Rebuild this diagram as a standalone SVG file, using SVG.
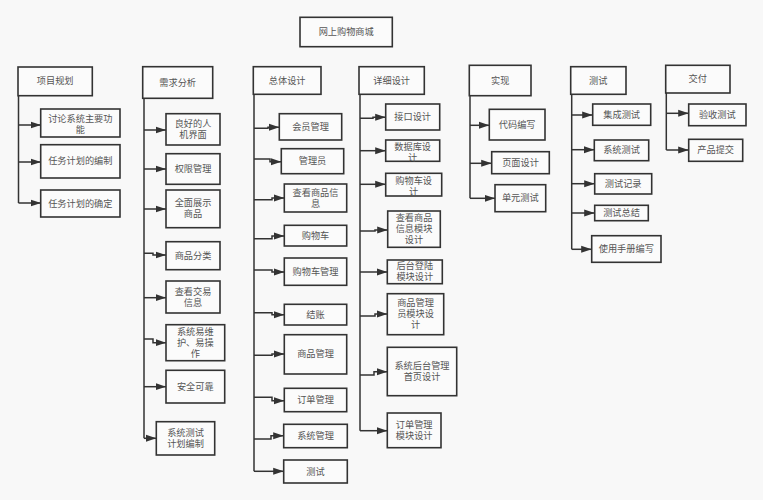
<svg xmlns="http://www.w3.org/2000/svg" width="763" height="500" viewBox="0 0 763 500">
<style>
.b{fill:#fbfbfb;stroke:#333;stroke-width:1.6}
.t{font-family:"Liberation Sans","Noto Sans CJK SC",sans-serif;font-size:9.2px;fill:#555;text-anchor:middle;dominant-baseline:central}
.e{fill:none;stroke:#333;stroke-width:1.5}
</style>
<defs>
<marker id="a" markerUnits="userSpaceOnUse" markerWidth="11" markerHeight="8" refX="10.5" refY="4" orient="auto">
<path d="M0,0.5 L10.5,4 L0,7.5 z" fill="#333"/>
</marker>
</defs>
<rect width="763" height="500" fill="#f8f8f8"/>
<g id="connectors">
<path class="e" d="M18.5,96 V203"/>
<path class="e" d="M18.5,125 H41" marker-end="url(#a)"/>
<path class="e" d="M18.5,162 H41" marker-end="url(#a)"/>
<path class="e" d="M18.5,203 H41" marker-end="url(#a)"/>
<path class="e" d="M144,98 V438.3"/>
<path class="e" d="M144,130 H166" marker-end="url(#a)"/>
<path class="e" d="M144,169 H166" marker-end="url(#a)"/>
<path class="e" d="M144,209 H166" marker-end="url(#a)"/>
<path class="e" d="M144,253.3 H153 V255 H166" marker-end="url(#a)"/>
<path class="e" d="M144,297.7 H166" marker-end="url(#a)"/>
<path class="e" d="M144,339 H153 V342.7 H166" marker-end="url(#a)"/>
<path class="e" d="M144,386.7 H166" marker-end="url(#a)"/>
<path class="e" d="M144,438.3 H156.3" marker-end="url(#a)"/>
<path class="e" d="M254,94 V471.3"/>
<path class="e" d="M254,128.3 H268 V127.3 H279.3" marker-end="url(#a)"/>
<path class="e" d="M254,159 H270 V161.7 H281.3" marker-end="url(#a)"/>
<path class="e" d="M254,199.7 H272 V198 H284.3" marker-end="url(#a)"/>
<path class="e" d="M254,238.7 H272 V236 H284.3" marker-end="url(#a)"/>
<path class="e" d="M254,270 H272 V272 H284.3" marker-end="url(#a)"/>
<path class="e" d="M254,312.7 H272 V314.7 H284.3" marker-end="url(#a)"/>
<path class="e" d="M254,355.3 H272 V354 H284.3" marker-end="url(#a)"/>
<path class="e" d="M254,397.3 H272 V400.7 H284.3" marker-end="url(#a)"/>
<path class="e" d="M254,439 H271 V435.7 H283.7" marker-end="url(#a)"/>
<path class="e" d="M254,471.3 H283.7" marker-end="url(#a)"/>
<path class="e" d="M360,94 V430.7"/>
<path class="e" d="M360,118.3 H373 V117.3 H385.7" marker-end="url(#a)"/>
<path class="e" d="M360,150.7 H385.7" marker-end="url(#a)"/>
<path class="e" d="M360,184.3 H385.7" marker-end="url(#a)"/>
<path class="e" d="M360,231 H375 V230 H387.7" marker-end="url(#a)"/>
<path class="e" d="M360,272 H387.3" marker-end="url(#a)"/>
<path class="e" d="M360,316 H375 V314 H387.3" marker-end="url(#a)"/>
<path class="e" d="M360,375 H374 V371.7 H387.3" marker-end="url(#a)"/>
<path class="e" d="M360,430.7 H387.3" marker-end="url(#a)"/>
<path class="e" d="M470,96 V198.3"/>
<path class="e" d="M470,125.3 H489.3" marker-end="url(#a)"/>
<path class="e" d="M470,163.3 H491.7" marker-end="url(#a)"/>
<path class="e" d="M470,198.3 H495" marker-end="url(#a)"/>
<path class="e" d="M571.7,94 V249.3"/>
<path class="e" d="M571.7,115 H592.7" marker-end="url(#a)"/>
<path class="e" d="M571.7,149.7 H594.3" marker-end="url(#a)"/>
<path class="e" d="M571.7,183.7 H594.7" marker-end="url(#a)"/>
<path class="e" d="M571.7,213 H594.7" marker-end="url(#a)"/>
<path class="e" d="M571.7,249.3 H591.7" marker-end="url(#a)"/>
<path class="e" d="M666.3,93 V150"/>
<path class="e" d="M666.3,113.3 H688.7" marker-end="url(#a)"/>
<path class="e" d="M666.3,150 H688.7" marker-end="url(#a)"/>
</g>
<g id="root"><rect class="b" x="300" y="17.3" width="92.3" height="29.4"/><text class="t" x="346.2" y="32">网上购物商城</text></g>
<g id="c1"><rect class="b" x="18" y="67" width="74.3" height="28.7"/><text class="t" x="55.2" y="81.3">项目规划</text></g>
<g id="c1a"><rect class="b" x="40.7" y="109" width="79.3" height="28"/><text class="t" x="80.3" y="118.5">讨论系统主要功<tspan x="80.3" dy="11">能</tspan></text></g>
<g id="c1b"><rect class="b" x="40.7" y="144.7" width="79.3" height="33.3"/><text class="t" x="80.3" y="161.3">任务计划的编制</text></g>
<g id="c1c"><rect class="b" x="40.7" y="190" width="79.3" height="27"/><text class="t" x="80.3" y="203.5">任务计划的确定</text></g>
<g id="c2"><rect class="b" x="142.7" y="66.7" width="70" height="31.6"/><text class="t" x="177.7" y="82.5">需求分析</text></g>
<g id="c2a"><rect class="b" x="166" y="113.7" width="54" height="31.3"/><text class="t" x="193" y="123.8">良好的人<tspan x="193" dy="11">机界面</tspan></text></g>
<g id="c2b"><rect class="b" x="166" y="153.7" width="54" height="30.6"/><text class="t" x="193" y="169">权限管理</text></g>
<g id="c2c"><rect class="b" x="166" y="190" width="54" height="37.7"/><text class="t" x="193" y="203.3">全面展示<tspan x="193" dy="11">商品</tspan></text></g>
<g id="c2d"><rect class="b" x="166" y="241.7" width="54" height="28"/><text class="t" x="193" y="255.7">商品分类</text></g>
<g id="c2e"><rect class="b" x="166" y="281" width="54" height="32"/><text class="t" x="193" y="291.5">查看交易<tspan x="193" dy="11">信息</tspan></text></g>
<g id="c2f"><rect class="b" x="166" y="324.7" width="58.7" height="36"/><text class="t" x="195.3" y="331.7">系统易维<tspan x="195.3" dy="11">护、易操</tspan><tspan x="195.3" dy="11">作</tspan></text></g>
<g id="c2g"><rect class="b" x="166" y="370.3" width="58.7" height="32.7"/><text class="t" x="195.3" y="386.7">安全可靠</text></g>
<g id="c2h"><rect class="b" x="156.3" y="421.7" width="58.4" height="33.3"/><text class="t" x="185.5" y="432.8">系统测试<tspan x="185.5" dy="11">计划编制</tspan></text></g>
<g id="c3"><rect class="b" x="253.3" y="66.7" width="67.7" height="27.6"/><text class="t" x="287.2" y="80.5">总体设计</text></g>
<g id="c3a"><rect class="b" x="279.3" y="113.7" width="62.4" height="26.3"/><text class="t" x="310.5" y="127">会员管理</text></g>
<g id="c3b"><rect class="b" x="281.3" y="148.7" width="62.4" height="25"/><text class="t" x="312.5" y="161.2">管理员</text></g>
<g id="c3c"><rect class="b" x="284.3" y="184" width="62.4" height="28"/><text class="t" x="315.5" y="192.5">查看商品信<tspan x="315.5" dy="11">息</tspan></text></g>
<g id="c3d"><rect class="b" x="284.3" y="225.3" width="62.4" height="20.7"/><text class="t" x="315.5" y="235.7">购物车</text></g>
<g id="c3e"><rect class="b" x="284.3" y="258" width="62.4" height="27.3"/><text class="t" x="315.5" y="271.7">购物车管理</text></g>
<g id="c3f"><rect class="b" x="284.3" y="304.3" width="62.4" height="20.7"/><text class="t" x="315.5" y="314.7">结账</text></g>
<g id="c3g"><rect class="b" x="284.3" y="334.7" width="62.4" height="39.3"/><text class="t" x="315.5" y="354.3">商品管理</text></g>
<g id="c3h"><rect class="b" x="284.3" y="388.3" width="62.4" height="23.4"/><text class="t" x="315.5" y="400">订单管理</text></g>
<g id="c3i"><rect class="b" x="283.7" y="424.3" width="63.6" height="23.4"/><text class="t" x="315.5" y="436">系统管理</text></g>
<g id="c3j"><rect class="b" x="283.7" y="460" width="63.6" height="23"/><text class="t" x="315.5" y="471.5">测试</text></g>
<g id="c4"><rect class="b" x="359" y="66.7" width="65.3" height="27.6"/><text class="t" x="391.7" y="80.5">详细设计</text></g>
<g id="c4a"><rect class="b" x="385.7" y="104" width="54" height="26"/><text class="t" x="412.7" y="117">接口设计</text></g>
<g id="c4b"><rect class="b" x="385.7" y="140" width="54" height="21.3"/><text class="t" x="412.7" y="146.5">数据库设<tspan x="412.7" dy="11">计</tspan></text></g>
<g id="c4c"><rect class="b" x="385.7" y="173.3" width="56" height="22.7"/><text class="t" x="413.7" y="180.5">购物车设<tspan x="413.7" dy="11">计</tspan></text></g>
<g id="c4d"><rect class="b" x="387.7" y="211" width="52.6" height="36.3"/><text class="t" x="414" y="218.2">查看商品<tspan x="414" dy="11">信息模块</tspan><tspan x="414" dy="11">设计</tspan></text></g>
<g id="c4e"><rect class="b" x="387.3" y="260" width="55" height="23.7"/><text class="t" x="414.8" y="266.4">后台登陆<tspan x="414.8" dy="11">模块设计</tspan></text></g>
<g id="c4f"><rect class="b" x="387.3" y="293.7" width="56.4" height="41"/><text class="t" x="415.5" y="303.2">商品管理<tspan x="415.5" dy="11">员模块设</tspan><tspan x="415.5" dy="11">计</tspan></text></g>
<g id="c4g"><rect class="b" x="387.3" y="347.3" width="69.4" height="48.4"/><text class="t" x="422" y="366">系统后台管理<tspan x="422" dy="11">首页设计</tspan></text></g>
<g id="c4h"><rect class="b" x="387.3" y="413" width="53.7" height="34.7"/><text class="t" x="414.2" y="424.8">订单管理<tspan x="414.2" dy="11">模块设计</tspan></text></g>
<g id="c5"><rect class="b" x="469.3" y="65.3" width="61.7" height="30.4"/><text class="t" x="500.2" y="80.5">实现</text></g>
<g id="c5a"><rect class="b" x="489.3" y="109.3" width="55.7" height="30.7"/><text class="t" x="517.2" y="125">代码编写</text></g>
<g id="c5b"><rect class="b" x="491.7" y="151.7" width="57.6" height="22"/><text class="t" x="520.5" y="162.7">页面设计</text></g>
<g id="c5c"><rect class="b" x="495" y="184.7" width="50.7" height="27"/><text class="t" x="520.3" y="198.2">单元测试</text></g>
<g id="c6"><rect class="b" x="570.7" y="66.7" width="55.3" height="27.6"/><text class="t" x="598.3" y="80.5">测试</text></g>
<g id="c6a"><rect class="b" x="592.7" y="104" width="58" height="21.3"/><text class="t" x="621.7" y="114.7">集成测试</text></g>
<g id="c6b"><rect class="b" x="594.3" y="140" width="54.4" height="20.7"/><text class="t" x="621.5" y="150.3">系统测试</text></g>
<g id="c6c"><rect class="b" x="594.7" y="173.7" width="57" height="20.3"/><text class="t" x="623.2" y="183.8">测试记录</text></g>
<g id="c6d"><rect class="b" x="594.7" y="205.3" width="53.6" height="15.4"/><text class="t" x="621.5" y="213">测试总结</text></g>
<g id="c6e"><rect class="b" x="591.7" y="235.7" width="69.3" height="26.6"/><text class="t" x="626.3" y="249">使用手册编写</text></g>
<g id="c7"><rect class="b" x="665.7" y="65.3" width="64.3" height="27.7"/><text class="t" x="697.8" y="79.2">交付</text></g>
<g id="c7a"><rect class="b" x="688.7" y="104" width="57.3" height="21.7"/><text class="t" x="717.3" y="114.8">验收测试</text></g>
<g id="c7b"><rect class="b" x="688.7" y="139.3" width="54" height="22"/><text class="t" x="715.7" y="150.3">产品提交</text></g>
</svg>
